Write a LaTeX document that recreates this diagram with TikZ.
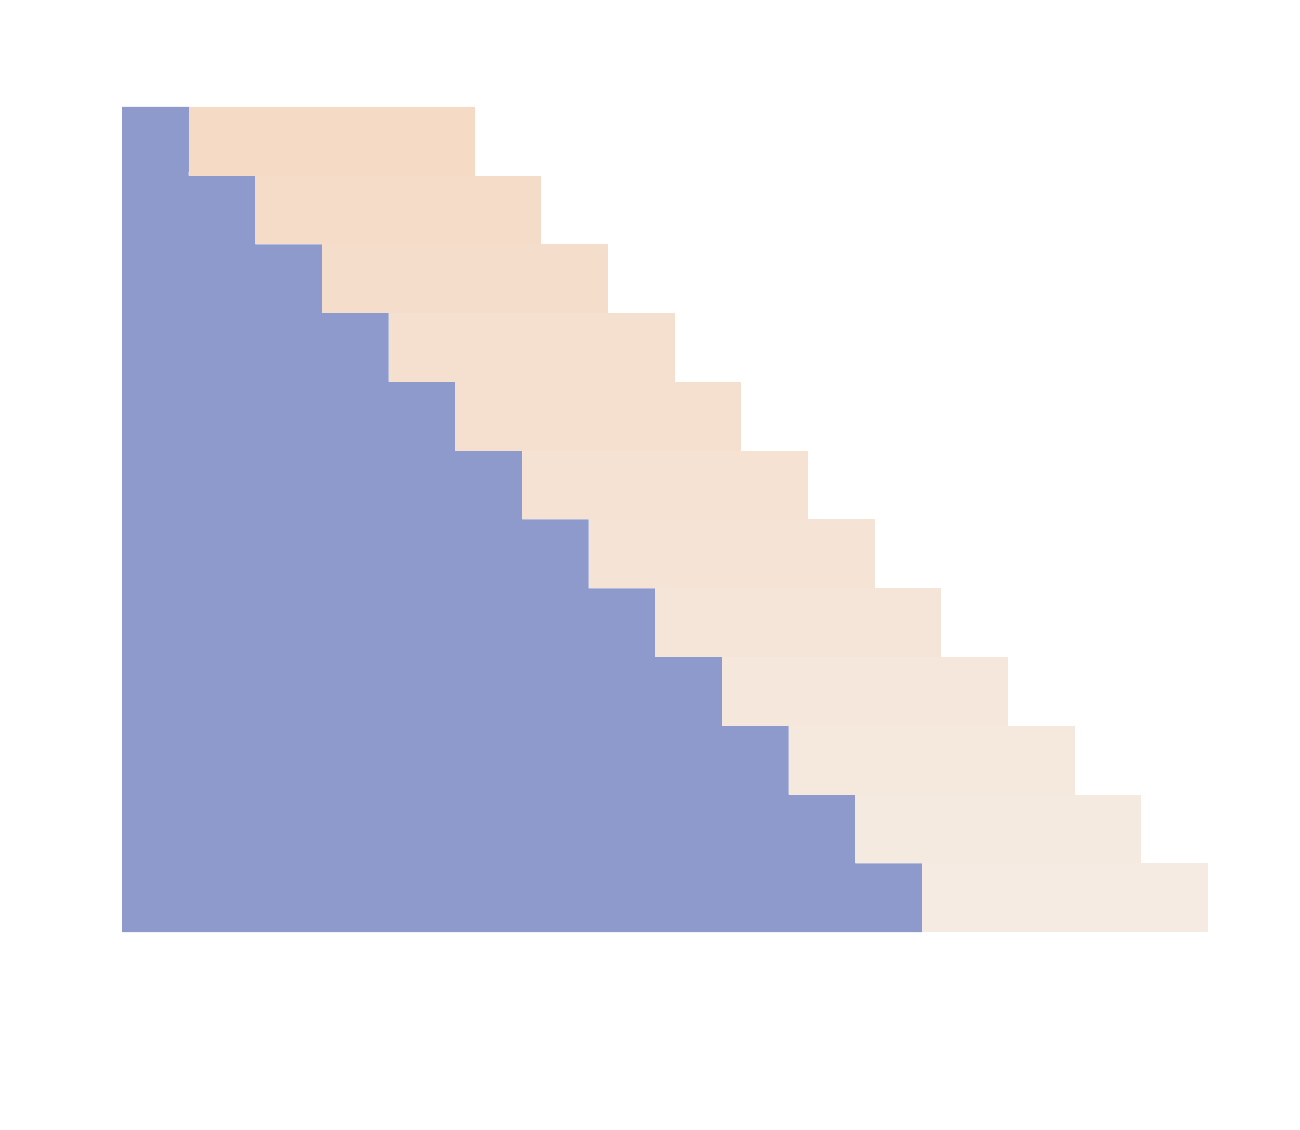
\documentclass[tikz,border=0pt]{standalone}
\definecolor{stairblue}{HTML}{8E9ACB}
\definecolor{peachtop}{HTML}{F5DAC6}
\definecolor{peachbot}{HTML}{F5EBE2}
\begin{document}
\begin{tikzpicture}[x=0.75pt,y=-0.75pt]
\useasboundingbox[fill=white] (0,0) rectangle (1300,1130);
% blue staircase
\fill[stairblue] (122,107) -- (190,107)
  \foreach \i in {1,...,11}{
    -- ({122+66.67*\i},{107+68.75*\i}) -- ({122+66.67*(\i+1)},{107+68.75*\i})
  } -- (922,932) -- (122,932) -- cycle;
% peach steps
\foreach \i in {0,...,11}{
  \pgfmathtruncatemacro{\pct}{100-round(100*\i/11)}
  \fill[peachtop!\pct!peachbot] ({122+66.67*(\i+1)},{107+68.75*\i}) rectangle ++(286,68.75);
}
\end{tikzpicture}
\end{document}
